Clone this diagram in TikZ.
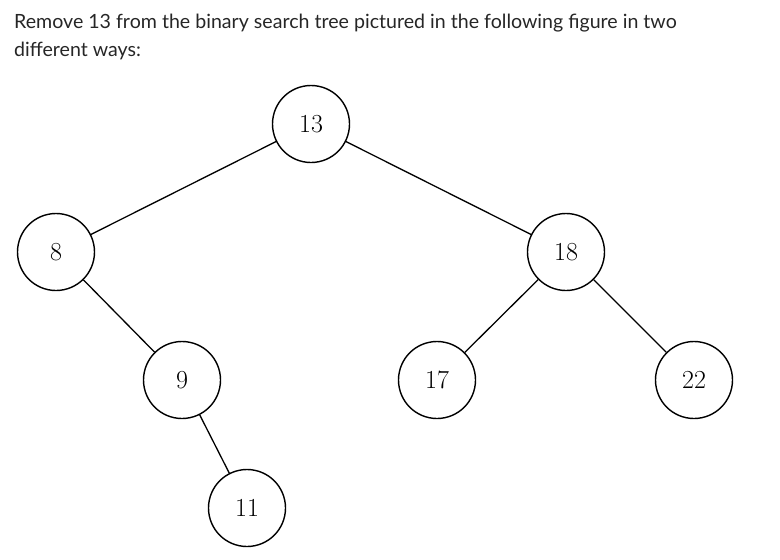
\documentclass[tikz,border=0pt]{standalone}
\usepackage{fontspec}
\newfontfamily\lato{Lato}
\begin{document}
\begin{tikzpicture}[x=1pt,y=-1pt,
  tn/.style={circle,draw,line width=1.4pt,minimum size=77pt,inner sep=0pt,font=\fontsize{26}{26}\selectfont},
  ed/.style={line width=1.3pt}]
\useasboundingbox (0,0) rectangle (780,560);
\node[anchor=base west,font=\lato\fontsize{19.6}{24}\selectfont,text=black!85,inner sep=0pt] (t1) at (14,28) {Remove 13 from the binary search tree pictured in the following figure in two};
\node[anchor=base west,font=\lato\fontsize{19.6}{24}\selectfont,text=black!85,inner sep=0pt] (t2) at (14,56) {different ways:};
\node[tn] (n13) at (311,124) {13};
\node[tn] (n8) at (56,252) {8};
\node[tn] (n18) at (566,252) {18};
\node[tn] (n9) at (182,380) {9};
\node[tn] (n17) at (437,380) {17};
\node[tn] (n22) at (694,380) {22};
\node[tn] (n11) at (247,508) {11};
\draw[ed] (n13) -- (n8);
\draw[ed] (n13) -- (n18);
\draw[ed] (n8) -- (n9);
\draw[ed] (n9) -- (n11);
\draw[ed] (n18) -- (n17);
\draw[ed] (n18) -- (n22);
\end{tikzpicture}
\end{document}
